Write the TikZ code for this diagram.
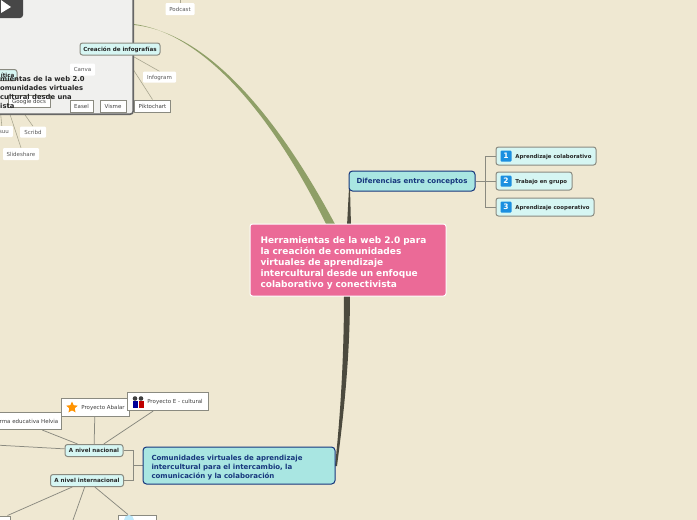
\documentclass[tikz,border=0pt]{standalone}
\usepackage{fontspec}
\setmainfont{DejaVu Sans}
\usetikzlibrary{positioning,calc,shapes.geometric}
\pgfdeclarelayer{back}
\pgfsetlayers{back,main}
\definecolor{paper}{HTML}{EFE8D2}
\definecolor{rootpink}{HTML}{EB6A97}
\definecolor{teal1}{HTML}{A9E6E2}
\definecolor{teal2}{HTML}{D6F6F3}
\definecolor{navy}{HTML}{16367C}
\definecolor{olive}{HTML}{8F9F67}
\definecolor{bark}{HTML}{4C4A3E}
\definecolor{edge}{HTML}{8A8A80}
\definecolor{leafedge}{HTML}{A9A690}
\definecolor{panelgray}{HTML}{F0F0EE}
\definecolor{numblue}{HTML}{1B8FE0}
\tikzset{
    rootbox/.style={draw=white,fill=rootpink,text=white,rounded corners=2.5pt,line width=1pt,font=\bfseries\fontsize{9}{11}\selectfont,align=left,inner sep=0pt},
    mainbox/.style={draw=navy,fill=teal1,text=navy,rounded corners=3.5pt,line width=1pt,font=\bfseries\fontsize{7}{8.8}\selectfont,align=left,inner sep=0pt},
    subbox/.style={draw=edge,fill=teal2,text=black!85,rounded corners=2.5pt,line width=1pt,font=\bfseries\fontsize{5.6}{7}\selectfont,inner sep=0pt,text depth=0pt},
    boxleaf/.style={draw=edge,fill=white,text=black!75,line width=1pt,font=\fontsize{5.5}{7}\selectfont,inner sep=0pt,text depth=0pt},
    softleaf/.style={fill=white,text=black!65,rounded corners=1pt,font=\fontsize{5.5}{7}\selectfont,inner sep=0pt,text depth=0pt},
    numicon/.style={fill=numblue,text=white,rounded corners=1pt,minimum size=11pt,font=\bfseries\fontsize{7.5}{8}\selectfont,inner sep=0pt},
    numtext/.style={font=\bfseries\fontsize{5.4}{7}\selectfont,text=black!85,inner sep=0pt,text depth=0pt},
    twig/.style={draw=leafedge,line width=0.6pt},
    link/.style={draw=edge,line width=0.75pt}
}
\begin{document}
\begin{tikzpicture}[x=1pt,y=-1pt]
            \useasboundingbox (0,0) rectangle (697,520);

            \coordinate (PT) at (180,0);
            \coordinate (OL) at (-5,445);
            \coordinate (BT) at (73,520);
            \coordinate (TB) at (485,181);
            \coordinate (MB) at (133,465.5);

            \node[rootbox,minimum width=196pt,minimum height=72pt,text width=175pt,text depth=40.5pt] (root) at (348,260) {Herramientas de la web 2.0 para\\ la creación de comunidades\\ virtuales de aprendizaje\\ intercultural desde un enfoque\\ colaborativo y conectivista};

            \node[mainbox,minimum width=126pt,minimum height=20pt,text depth=-2pt] (dif) at (412,181) {Diferencias entre conceptos};
            \node[subbox,minimum width=100pt,minimum height=18pt] (s1) at (546,156) {};
            \node[subbox,minimum width=76pt,minimum height=18pt] (s2) at (534,181) {};
            \node[subbox,minimum width=98pt,minimum height=18pt] (s3) at (545,207) {};
            \node[numicon] (n1) at (506,156) {1};
            \node[numicon] (n2) at (506,181) {2};
            \node[numicon] (n3) at (506,207) {3};
            \node[numtext,right=3.5pt of n1] (t1) {Aprendizaje colaborativo};
            \node[numtext,right=3.5pt of n2] (t2) {Trabajo en grupo};
            \node[numtext,right=3.5pt of n3] (t3) {Aprendizaje cooperativo};

            \node[mainbox,minimum width=192pt,minimum height=37pt,text width=175pt,text depth=15pt] (com) at (239,465.5) {Comunidades virtuales de aprendizaje\\ intercultural para el intercambio, la\\ comunicación y la colaboración};
            \node[subbox,minimum width=58pt,minimum height=12pt] (nac) at (94,450.5) {A nivel nacional};
            \node[subbox,minimum width=73pt,minimum height=12pt] (int) at (87,480.5) {A nivel internacional};
            \node[boxleaf,minimum width=68pt,minimum height=18pt] (aba) at (95,407) {\hspace*{16pt}Proyecto Abalar};
            \node[boxleaf,minimum width=81pt,minimum height=18pt] (ecu) at (167.5,401.5) {\hspace*{15pt}Proyecto E - cultural};
            \node[boxleaf,anchor=east,minimum width=84pt,minimum height=17pt] (hel) at (62,421) {Plataforma educativa Helvia};
            \node[boxleaf,minimum width=38pt,minimum height=14pt] (ico) at (137,522) {};
            \node[boxleaf,anchor=east,minimum width=40pt,minimum height=14pt] (bl) at (11,523) {};
            \node[star,star points=5,star point ratio=2.1,fill=orange!85!yellow,inner sep=0pt,minimum size=12pt] (sta) at (72,407.5) {};
            \fill[blue!60!black] (132.5,401) rectangle (137.5,407.5);
            \fill[red!75!black] (138.5,401) rectangle (144,407.5);
            \fill[black!75] (135,398.5) circle (2.3pt);
            \fill[black!75] (141,398.5) circle (2.3pt);
            \fill[cyan!25] (129,520) circle (5pt);

            \node[softleaf,minimum width=29pt,minimum height=12pt] (pod) at (180,9) {Podcast};
            \node[softleaf,minimum width=33pt,minimum height=11pt] (inf) at (159.5,77) {Infogram};
            \node[boxleaf,minimum width=36pt,minimum height=12pt] (pik) at (152.5,106) {Piktochart};
            \node[softleaf,anchor=east,minimum width=22pt,minimum height=11pt] (iss) at (13,131.5) {Issuu};
            \node[softleaf,minimum width=26pt,minimum height=11pt] (scr) at (33,132) {Scribd};
            \node[softleaf,minimum width=36pt,minimum height=12pt] (sli) at (21,154) {Slideshare};
            \node[subbox,minimum width=80pt,minimum height=12pt] (cre) at (120,49) {Creación de infografías};
            \node[softleaf,minimum width=25pt,minimum height=12pt] (can) at (82.5,69.5) {Canva};
            \node[boxleaf,minimum width=23pt,minimum height=12pt] (eas) at (81.5,106.5) {Easel};
            \node[boxleaf,minimum width=26pt,minimum height=12pt] (vis) at (113,106.5) {Visme};
            \node[boxleaf,minimum width=42pt,minimum height=12pt] (goo) at (29,101.5) {Google docs};
            \node[subbox,anchor=east,minimum width=40pt,minimum height=11pt,text width=35pt,align=right] (ofi) at (17.5,75) {ítica};
            \node[anchor=north west,align=left,inner sep=0pt,text=black!85,font=\bfseries\fontsize{6.8}{8.9}\selectfont] (tit) at (0,76.5) {mientas de la web 2.0\\ omunidades virtuales\\ cultural desde una\\ ista};

            \begin{pgfonlayer}{back}
            \fill[paper] (0,0) rectangle (697,520);
            \fill[olive] (128,23.5) .. controls (200,28.5) and (272,113) .. (327,226) -- (336,226) .. controls (277,115) and (204,28) .. (128,24.5) -- cycle;
            \fill[bark] (349,188) -- (347,226) -- (351,226) -- (350,188) -- cycle;
            \fill[bark] (344,294) .. controls (344,360) and (340,420) .. (335,466) -- (337,466) .. controls (343,420) and (350,360) .. (350,294) -- cycle;
            \draw[link] (dif.east) -- (TB);
            \draw[link] (s1.west) -| (TB);
            \draw[link] (s3.west) -| (TB);
            \draw[link] (TB) -- (s2.west);
            \draw[link] (com.west) -- (MB);
            \draw[link] (nac.east) -| (MB);
            \draw[link] (int.east) -| (MB);
            \draw[link] (nac) -- (OL);
            \draw[link] (nac) -- (hel);
            \draw[link] (nac) -- (aba);
            \draw[link] (nac) -- (ecu);
            \draw[link] (int) -- (bl);
            \draw[link] (int) -- (BT);
            \draw[link] (int) -- (ico);
            \draw[twig] (PT) -- (pod);
            \draw[twig] (cre) -- (inf.north);
            \draw[twig] (cre) -- (pik.north);
            \draw[twig] (ofi) -- (iss.north);
            \draw[twig] (ofi) -- (scr.north);
            \draw[twig] (ofi) -- (sli.north);
            \node[draw=black!60,fill=panelgray,rounded corners=3pt,line width=1.6pt,minimum width=160pt,minimum height=135pt,anchor=south east,inner sep=0pt] (panel) at (134,115) {};
            \fill[black!72,rounded corners=3pt] (-10,-10) rectangle (23,18);
            \fill[white] (1,0) -- (11,7) -- (1,13) -- cycle;
            \end{pgfonlayer}
        \end{tikzpicture}
\end{document}
